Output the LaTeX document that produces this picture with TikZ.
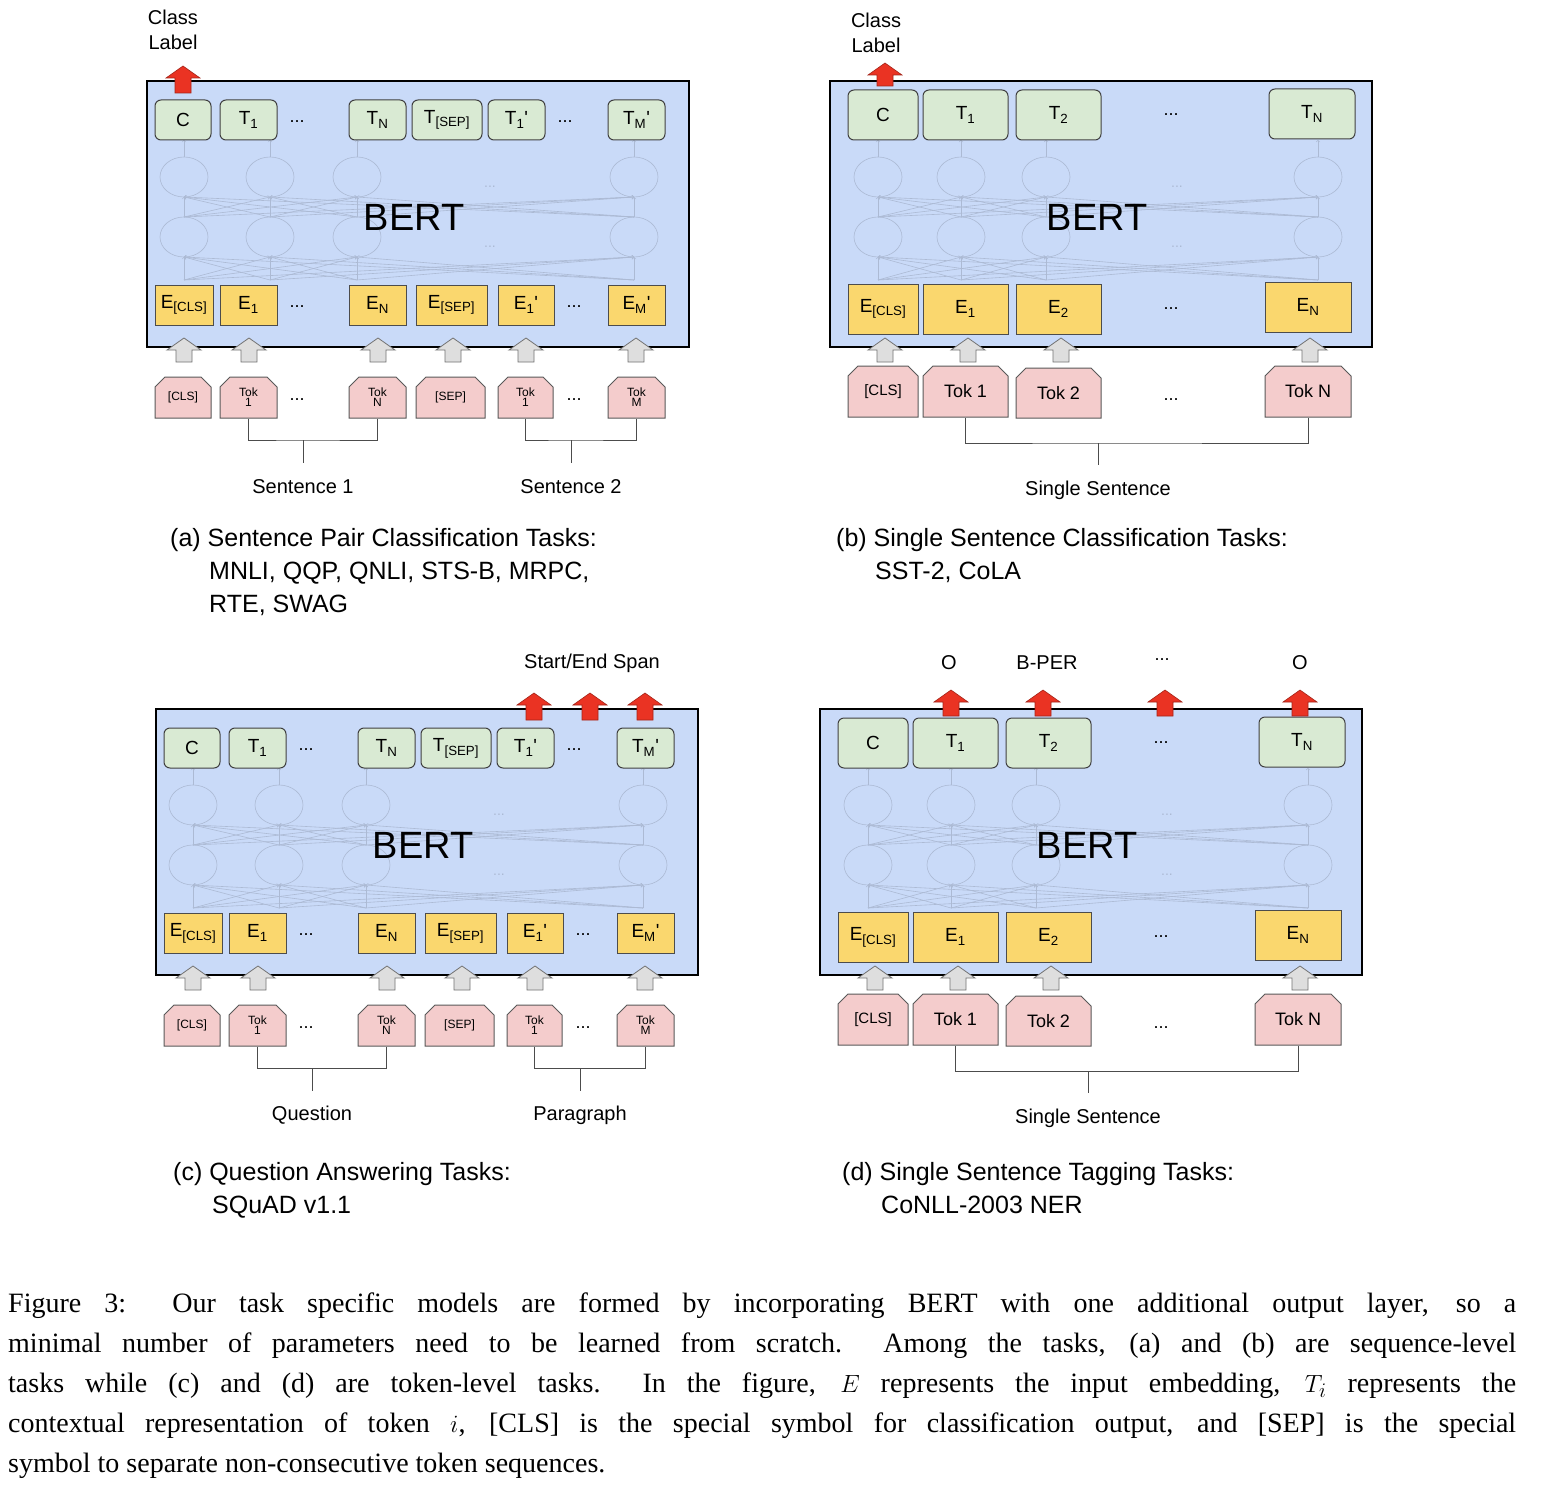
\documentclass[tikz,border=0pt]{standalone}
\usepackage{fontspec}
\setmainfont{Liberation Serif}
\newfontfamily\sans{Liberation Sans}
\usetikzlibrary{shapes.misc}
\definecolor{bertblue}{RGB}{201,218,248}
\definecolor{tgreen}{RGB}{217,234,211}
\definecolor{eyellow}{RGB}{250,215,110}
\definecolor{tokpink}{RGB}{244,204,204}
\definecolor{rred}{RGB}{234,51,35}
\definecolor{nnc}{RGB}{172,186,212}
\newcommand\sbs[1]{\textsubscript{#1}}
\newcommand\fs[1]{\sans\fontsize{#1}{#1}\selectfont}
\tikzset{
 frame/.style={draw=black,line width=2.8pt,fill=bertblue,inner sep=0},
 tb/.style={draw=black!75,line width=1pt,fill=tgreen,rounded corners=6pt,inner sep=0,font=\fs{19}},
 eb/.style={draw=black!70,line width=1pt,fill=eyellow,inner sep=0,font=\fs{19}},
 tok/.style={chamfered rectangle,chamfered rectangle corners={north west,north east},chamfered rectangle xsep=5pt,chamfered rectangle ysep=5pt,draw=black!65,line width=1pt,fill=tokpink,inner sep=0,font=\fs{12}},
 bigtok/.style={tok,font=\fs{18}},
 dots/.style={font=\fs{18},inner sep=0},
 fdots/.style={font=\fs{14},text=nnc,inner sep=0},
 lbl/.style={font=\sans\fontsize{20}{25}\selectfont,inner sep=0,align=center},
 subcap/.style={font=\sans\fontsize{25}{33}\selectfont,inner sep=0,anchor=north west,align=left},
 bert/.style={font=\fs{38},inner sep=0},
 nn/.style={draw=nnc,line width=0.6pt},
 redarr/.style={fill=rred,draw=rred!70!black,line width=0.6pt},
 grayarr/.style={fill=black!13,draw=black!55,line width=0.8pt},
 brk/.style={draw=black!70,line width=1pt},
}
\newcommand\bx[7]{\node[#2,minimum width={#4-#3},minimum height={#6-#5},align=center] (#1) at ({(#3+#4)/2},{(#5+#6)/2}) {#7};}
\newcommand\uarr[4]{\draw[#1] (#2-8,#4) -- (#2-8,#3+12) -- (#2-17,#3+12) -- (#2,#3) -- (#2+17,#3+12) -- (#2+8,#3+12) -- (#2+8,#4) -- cycle;}
\newcommand\nnet[5]{%
 \foreach \a in {#1}{
  \draw[nn] (\a,#2) ellipse (24 and 20);
  \draw[nn] (\a,#3) ellipse (24 and 20);
  \draw[nn,->] (\a,#2-20) -- (\a,#5);
  \foreach \b in {#1}{
   \draw[nn,->] (\a,#3-20) -- (\b,#2+20);
   \draw[nn,->] (\a,#4) -- (\b,#3+20);
  }}}
% panel type A
\newcommand\panA[3]{%
 \bx{#1fr}{frame}{147}{689}{81}{347}{}
 \nnet{184,270,357,634}{177}{237}{280}{140}
 \node[fdots] (#1fd1) at (490,187) {...};
 \node[fdots] (#1fd2) at (490,247) {...};
 \node[bert] (#1bert) at (414,217) {BERT};
 \bx{#1tc}{tb}{155}{211}{100}{140}{C}
 \bx{#1t1}{tb}{220}{277}{100}{140}{T\sbs{1}}
 \bx{#1tn}{tb}{349}{406}{100}{140}{T\sbs{N}}
 \bx{#1ts}{tb}{412}{482}{100}{140}{T\sbs{[SEP]}}
 \bx{#1tp}{tb}{488}{545}{100}{140}{T\sbs{1}'}
 \bx{#1tm}{tb}{608}{665}{100}{140}{T\sbs{M}'}
 \node[dots] (#1td1) at (297,122) {...};
 \node[dots] (#1td2) at (565,122) {...};
 \bx{#1ec}{eb}{155}{213}{285}{325}{E\sbs{[CLS]}}
 \bx{#1e1}{eb}{220}{277}{285}{325}{E\sbs{1}}
 \bx{#1en}{eb}{349}{406}{285}{325}{E\sbs{N}}
 \bx{#1es}{eb}{416}{487}{285}{325}{E\sbs{[SEP]}}
 \bx{#1ep}{eb}{498}{554}{285}{325}{E\sbs{1}'}
 \bx{#1em}{eb}{608}{665}{285}{325}{E\sbs{M}'}
 \node[dots] (#1ed1) at (297,307) {...};
 \node[dots] (#1ed2) at (574,307) {...};
 \foreach \x in {184,249,378,453,526,636}{\uarr{grayarr}{\x}{338}{362}}
 \bx{#1kc}{tok}{155}{211}{377}{418}{[CLS]}
 \bx{#1k1}{tok}{220}{277}{377}{418}{Tok\\[-2pt]1}
 \bx{#1kn}{tok}{349}{406}{377}{418}{Tok\\[-2pt]N}
 \bx{#1ks}{tok}{416}{485}{377}{418}{[SEP]}
 \bx{#1kp}{tok}{498}{553}{377}{418}{Tok\\[-2pt]1}
 \bx{#1km}{tok}{608}{665}{377}{418}{Tok\\[-2pt]M}
 \node[dots] (#1kd1) at (297,400) {...};
 \node[dots] (#1kd2) at (574,400) {...};
 \coordinate (#1j1) at (303,440); \coordinate (#1s1) at (303,463);
 \coordinate (#1j2) at (571,440); \coordinate (#1s2) at (571,463);
 \draw[brk] (#1k1.south) |- (#1j1) -| (#1kn.south);
 \draw[brk] (#1j1) -- (#1s1);
 \draw[brk] (#1kp.south) |- (#1j2) -| (#1km.south);
 \draw[brk] (#1j2) -- (#1s2);
 \node[lbl] (#1l1) at (303,487) {#2};
 \node[lbl] (#1l2) at (571,487) {#3};
}
% panel type B
\newcommand\panB[1]{%
 \bx{#1fr}{frame}{830}{1372}{81}{347}{}
 \nnet{878,961,1046,1318}{177}{237}{280}{140}
 \node[fdots] (#1fd1) at (1177,187) {...};
 \node[fdots] (#1fd2) at (1177,247) {...};
 \node[bert] (#1bert) at (1097,217) {BERT};
 \bx{#1tc}{tb}{848}{918}{90}{140}{C}
 \bx{#1t1}{tb}{923}{1008}{90}{140}{T\sbs{1}}
 \bx{#1t2}{tb}{1016}{1101}{90}{140}{T\sbs{2}}
 \bx{#1tn}{tb}{1269}{1355}{89}{139}{T\sbs{N}}
 \node[dots] (#1td) at (1171,115) {...};
 \bx{#1ec}{eb}{848}{918}{284}{334}{E\sbs{[CLS]}}
 \bx{#1e1}{eb}{923}{1008}{284}{334}{E\sbs{1}}
 \bx{#1e2}{eb}{1016}{1101}{284}{334}{E\sbs{2}}
 \bx{#1en}{eb}{1265}{1351}{282}{332}{E\sbs{N}}
 \node[dots] (#1ed) at (1171,309) {...};
 \foreach \x in {885,968,1061,1310}{\uarr{grayarr}{\x}{338}{362}}
 \bx{#1kc}{bigtok}{848}{918}{366}{417}{\fs{15}[CLS]}
 \bx{#1k1}{bigtok}{923}{1008}{366}{417}{Tok 1}
 \bx{#1k2}{bigtok}{1016}{1101}{368}{418}{Tok 2}
 \bx{#1kn}{bigtok}{1265}{1351}{366}{417}{Tok N}
 \node[dots] (#1kd) at (1171,400) {...};
 \coordinate (#1j) at (1098,443); \coordinate (#1s) at (1098,465);
 \draw[brk] (#1k1.south) |- (#1j) -| (#1kn.south);
 \draw[brk] (#1j) -- (#1s);
 \node[lbl] (#1l) at (1098,490) {Single Sentence};
}
\begin{document}
\begin{tikzpicture}[x=1pt,y=-1pt]
\useasboundingbox (0,0) rectangle (1550,1498);
\fill[white] (0,0) rectangle (1550,1498);
% (a)
\panA{a}{Sentence 1}{Sentence 2}
\uarr{redarr}{183}{66}{93}
\node[lbl] (acl) at (173,30) {Class\\Label};
\node[subcap] (acap) at (170,528) {(a) Sentence Pair Classification Tasks:\\\hspace*{39pt}MNLI, QQP, QNLI, STS-B, MRPC,\\\hspace*{39pt}RTE, SWAG};
% (b)
\panB{b}
\uarr{redarr}{885}{63}{86}
\node[lbl] (bcl) at (876,33) {Class\\Label};
\node[subcap] (bcap) at (836,528) {(b) Single Sentence Classification Tasks:\\\hspace*{39pt}SST-2, CoLA};
% (c)
\begin{scope}[shift={(9,628)}]
\panA{c}{Question}{Paragraph}
\foreach \x in {525,581,636}{\uarr{redarr}{\x}{65}{92}}
\node[lbl] (cse) at (583,35) {Start/End Span};
\end{scope}
\node[subcap] (ccap) at (173,1162) {(c) Question Answering Tasks:\\\hspace*{39pt}SQuAD v1.1};
% (d)
\begin{scope}[shift={(-10,628)}]
\panB{d}
\foreach \x in {961,1053,1175,1310}{\uarr{redarr}{\x}{62}{88}}
\node[lbl] (do1) at (959,35) {O};
\node[lbl] (dbp) at (1057,35) {B-PER};
\node[dots] (ddt) at (1172,32) {...};
\node[lbl] (do2) at (1310,35) {O};
\end{scope}
\node[subcap] (dcap) at (842,1162) {(d) Single Sentence Tagging Tasks:\\\hspace*{39pt}CoNLL-2003 NER};
% caption
\node[anchor=north west,inner sep=0,text width=1508pt,align=justify,font=\fontsize{28}{40}\selectfont] (fig) at (8,1293) {Figure 3:\ \ Our task specific models are formed by incorporating BERT with one additional output layer, so a\linebreak minimal number of parameters need to be learned from scratch.\ \ Among the tasks, (a) and (b) are sequence-level\linebreak tasks while (c) and (d) are token-level tasks.\ \ In the figure, $E$ represents the input embedding, $T_i$ represents the\linebreak contextual representation of token $i$, [CLS] is the special symbol for classification output, and [SEP] is the special\linebreak symbol to separate non-consecutive token sequences.};
\end{tikzpicture}
\end{document}
